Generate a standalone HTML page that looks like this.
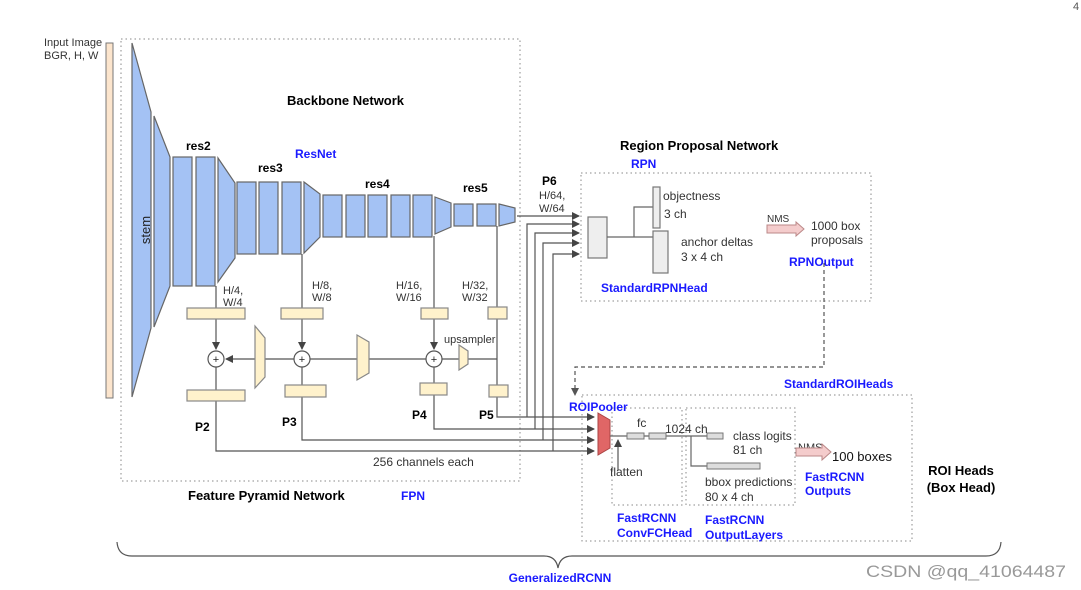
<!DOCTYPE html>
<html><head><meta charset="utf-8"><style>
html,body{margin:0;padding:0;background:#fff;}
svg{display:block;font-family:"Liberation Sans",Arial,sans-serif;}
.b{font-weight:bold;fill:#000;}
.bl{font-weight:bold;fill:#1a1aff;}
.t{fill:#333;}
</style></head><body>
<svg width="1081" height="590" viewBox="0 0 1081 590" xmlns="http://www.w3.org/2000/svg">
<defs>
<marker id="a" markerWidth="8" markerHeight="8" refX="7" refY="4" orient="auto" markerUnits="userSpaceOnUse"><path d="M0,0 L8,4 L0,8 z" fill="#444"/></marker>
</defs>
<text x="1073" y="10" font-size="11" fill="#555">4</text>
<!-- input -->
<text x="44" y="46" font-size="11" class="t">Input Image</text>
<text x="44" y="59" font-size="11" class="t">BGR, H, W</text>
<rect x="106" y="43" width="7" height="355" fill="#fce5cd" stroke="#777"/>
<!-- backbone dotted -->
<rect x="121" y="39" width="399" height="442" fill="none" stroke="#888" stroke-dasharray="1.5,3"/>
<g fill="#a4c2f4" stroke="#666" stroke-width="1.2">
<polygon points="132,43 151,112 151,328 132,397"/>
<polygon points="154,116 170,157 170,286 154,327"/>
<rect x="173" y="157" width="19" height="129"/><rect x="196" y="157" width="19" height="129"/>
<polygon points="218,158 235,183 235,258 218,282"/>
<rect x="237" y="182" width="19" height="72"/><rect x="259" y="182" width="19" height="72"/><rect x="282" y="182" width="19" height="72"/>
<polygon points="304,182 320,194 320,237 304,253"/>
<rect x="323" y="195" width="19" height="42"/><rect x="346" y="195" width="19" height="42"/><rect x="368" y="195" width="19" height="42"/><rect x="391" y="195" width="19" height="42"/><rect x="413" y="195" width="19" height="42"/>
<polygon points="435,197 451,203 451,227 435,234"/>
<rect x="454" y="204" width="19" height="22"/><rect x="477" y="204" width="19" height="22"/>
<polygon points="499,204 515,208 515,222 499,226"/>
</g>
<text x="150" y="230" font-size="13" transform="rotate(-90 150 230)" text-anchor="middle" fill="#222">stem</text>
<text x="287" y="105" font-size="13" class="b">Backbone Network</text>
<text x="186" y="150" font-size="12" class="b">res2</text>
<text x="258" y="172" font-size="12" class="b">res3</text>
<text x="365" y="188" font-size="12" class="b">res4</text>
<text x="463" y="192" font-size="12" class="b">res5</text>
<text x="295" y="158" font-size="12" class="bl">ResNet</text>
<!-- FPN -->
<g stroke="#555" stroke-width="1.2" fill="none">
<line x1="216" y1="286" x2="216" y2="308"/>
<line x1="216" y1="319" x2="216" y2="349" marker-end="url(#a)"/>
<line x1="302" y1="254" x2="302" y2="308"/>
<line x1="302" y1="319" x2="302" y2="349" marker-end="url(#a)"/>
<line x1="434" y1="236" x2="434" y2="308"/>
<line x1="434" y1="319" x2="434" y2="349" marker-end="url(#a)"/>
<line x1="497" y1="226" x2="497" y2="307"/>
<line x1="497" y1="319" x2="497" y2="385"/>
<line x1="497" y1="359" x2="442" y2="359"/>
<line x1="426" y1="359" x2="310" y2="359"/>
<line x1="294" y1="359" x2="226" y2="359" marker-end="url(#a)"/>
<line x1="216" y1="367" x2="216" y2="390"/>
<line x1="302" y1="367" x2="302" y2="385"/>
<line x1="434" y1="367" x2="434" y2="383"/>
<polyline points="497,397 497,417 594,417" marker-end="url(#a)"/>
<polyline points="434,395 434,429 594,429" marker-end="url(#a)"/>
<polyline points="302,397 302,440 594,440" marker-end="url(#a)"/>
<polyline points="216,401 216,451 594,451" marker-end="url(#a)"/>
<line x1="517" y1="216" x2="579" y2="216" marker-end="url(#a)"/>
<polyline points="527,417 527,224 579,224" marker-end="url(#a)"/>
<polyline points="535,429 535,233 579,233" marker-end="url(#a)"/>
<polyline points="543,440 543,243 579,243" marker-end="url(#a)"/>
<polyline points="553,451 553,254 579,254" marker-end="url(#a)"/>
</g>
<g fill="#fff" stroke="#555" stroke-width="1.2">
<circle cx="216" cy="359" r="8"/><circle cx="302" cy="359" r="8"/><circle cx="434" cy="359" r="8"/>
</g>
<g font-size="11" text-anchor="middle" fill="#222"><text x="216" y="363">+</text><text x="302" y="363">+</text><text x="434" y="363">+</text></g>
<g fill="#fff2cc" stroke="#888" stroke-width="1.2">
<rect x="187" y="308" width="58" height="11"/><rect x="281" y="308" width="42" height="11"/><rect x="421" y="308" width="27" height="11"/><rect x="488" y="307" width="19" height="12"/>
<rect x="187" y="390" width="58" height="11"/><rect x="285" y="385" width="41" height="12"/><rect x="420" y="383" width="27" height="12"/><rect x="489" y="385" width="19" height="12"/>
<polygon points="459,345 468,351 468,364 459,370"/>
<polygon points="357,335 369,342 369,373 357,380"/>
<polygon points="255,326 265,338 265,377 255,388"/>
</g>
<g font-size="11" class="t">
<text x="223" y="294">H/4,</text><text x="223" y="306">W/4</text>
<text x="312" y="289">H/8,</text><text x="312" y="301">W/8</text>
<text x="396" y="289">H/16,</text><text x="396" y="301">W/16</text>
<text x="462" y="289">H/32,</text><text x="462" y="301">W/32</text>
<text x="444" y="343">upsampler</text>
</g>
<g font-size="12" class="b"><text x="195" y="431">P2</text><text x="282" y="426">P3</text><text x="412" y="419">P4</text><text x="479" y="419">P5</text></g>
<text x="373" y="466" font-size="12" class="t">256 channels each</text>
<text x="188" y="500" font-size="13" class="b">Feature Pyramid Network</text>
<text x="401" y="500" font-size="12" class="bl">FPN</text>
<!-- RPN -->
<text x="542" y="185" font-size="12" class="b">P6</text>
<text x="539" y="199" font-size="11" class="t">H/64,</text><text x="539" y="212" font-size="11" class="t">W/64</text>
<text x="620" y="150" font-size="13" class="b">Region Proposal Network</text>
<text x="631" y="168" font-size="12" class="bl">RPN</text>
<rect x="581" y="173" width="290" height="128" fill="none" stroke="#888" stroke-dasharray="1.5,3"/>
<rect x="588" y="217" width="19" height="41" fill="#eee" stroke="#777" stroke-width="1.2"/>
<polyline points="607,237 653,237" stroke="#666" stroke-width="1.2" fill="none"/>
<polyline points="634,237 634,207 653,207" stroke="#666" stroke-width="1.2" fill="none"/>
<rect x="653" y="187" width="7" height="41" fill="#eee" stroke="#777" stroke-width="1.2"/>
<rect x="653" y="231" width="15" height="42" fill="#eee" stroke="#777" stroke-width="1.2"/>
<g font-size="12" class="t">
<text x="663" y="200">objectness</text><text x="664" y="218">3 ch</text>
<text x="681" y="246">anchor deltas</text><text x="681" y="261">3 x 4 ch</text>
<text x="811" y="230">1000 box</text><text x="811" y="244">proposals</text>
</g>
<text x="767" y="222" font-size="10" class="t">NMS</text>
<polygon points="767,225 796,225 796,222 804,229 796,236 796,233 767,233" fill="#f4cccc" stroke="#b88" />
<text x="789" y="266" font-size="12" class="bl">RPNOutput</text>
<text x="601" y="292" font-size="12" class="bl">StandardRPNHead</text>
<polyline points="824,263 824,367 575,367 575,392" fill="none" stroke="#555" stroke-dasharray="4,3" stroke-width="1.2"/>
<path d="M571,388 L579,388 L575,396 z" fill="#555"/>
<!-- ROI heads -->
<text x="784" y="388" font-size="12" class="bl">StandardROIHeads</text>
<rect x="582" y="395" width="330" height="146" fill="none" stroke="#888" stroke-dasharray="1.5,3"/>
<rect x="612" y="408" width="70" height="97" fill="none" stroke="#888" stroke-dasharray="1.5,3"/>
<rect x="686" y="408" width="109" height="97" fill="none" stroke="#888" stroke-dasharray="1.5,3"/>
<text x="569" y="411" font-size="12" class="bl">ROIPooler</text>
<polygon points="598,413 610,420 610,448 598,455" fill="#e06666" stroke="#a44"/>
<line x1="610" y1="436" x2="708" y2="436" stroke="#666" stroke-width="1.2"/>
<polyline points="691,436 691,466 708,466" fill="none" stroke="#666" stroke-width="1.2"/>
<line x1="618" y1="470" x2="618" y2="440" stroke="#555" stroke-width="1.2" marker-end="url(#a)"/>
<g fill="#ddd" stroke="#777">
<rect x="627" y="433" width="17" height="6"/><rect x="649" y="433" width="17" height="6"/>
<rect x="707" y="433" width="16" height="6"/><rect x="707" y="463" width="53" height="6"/>
</g>
<g font-size="12" class="t">
<text x="610" y="476">flatten</text><text x="637" y="427">fc</text><text x="665" y="433">1024 ch</text>
<text x="733" y="440">class logits</text><text x="733" y="454">81 ch</text>
<text x="705" y="486">bbox predictions</text><text x="705" y="501">80 x 4 ch</text>
</g>
<text x="798" y="451" font-size="11" class="t">NMS</text>
<polygon points="796,448 822,448 822,444 831,452 822,460 822,456 796,456" fill="#f4cccc" stroke="#b88"/>
<text x="832" y="461" font-size="13" fill="#111">100 boxes</text>
<text x="805" y="481" font-size="12" class="bl">FastRCNN</text><text x="805" y="495" font-size="12" class="bl">Outputs</text>
<text x="961" y="475" font-size="13" class="b" text-anchor="middle">ROI Heads</text>
<text x="961" y="492" font-size="13" class="b" text-anchor="middle">(Box Head)</text>
<text x="617" y="522" font-size="12" class="bl">FastRCNN</text><text x="617" y="537" font-size="12" class="bl">ConvFCHead</text>
<text x="705" y="524" font-size="12" class="bl">FastRCNN</text><text x="705" y="539" font-size="12" class="bl">OutputLayers</text>
<!-- brace -->
<path d="M117,542 Q118,556 132,556 L544,556 Q556,556 558,568 Q560,556 572,556 L986,556 Q1000,556 1001,542" fill="none" stroke="#555" stroke-width="1.2"/>
<text x="560" y="582" font-size="12" class="bl" text-anchor="middle">GeneralizedRCNN</text>
<text x="866" y="577" font-size="17" fill="#999" textLength="200" lengthAdjust="spacingAndGlyphs">CSDN @qq_41064487</text>
</svg>
</body></html>
